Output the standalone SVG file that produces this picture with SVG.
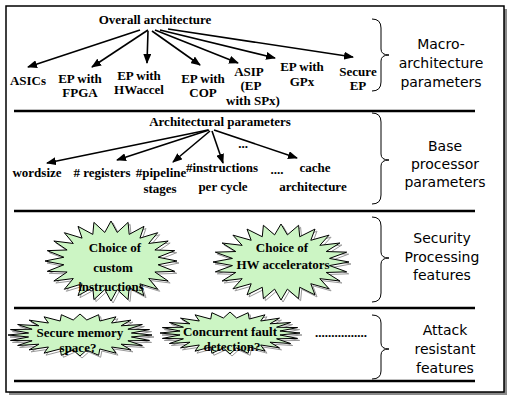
<svg xmlns="http://www.w3.org/2000/svg" xmlns:xlink="http://www.w3.org/1999/xlink" width="514" height="400" viewBox="0 0 514 400">
<style>
.t{font-family:"Liberation Serif","Times New Roman",Tinos,"DejaVu Serif",serif;font-weight:700;font-size:13px;text-anchor:middle;fill:#000}
.s{font-family:"DejaVu Sans","Noto Sans",sans-serif;font-size:14px;text-anchor:middle;fill:#000}
.sep{stroke:#000;stroke-width:2.5}
.br{fill:none;stroke:#000;stroke-width:1}
.ar{stroke:#000;stroke-width:1.6;fill:none;marker-end:url(#ah)}
.burst{fill:#ccf5c4;stroke:#000;stroke-width:1}
.bsh{fill:none;stroke:#999;stroke-width:1}
</style>
<defs>
<marker id="ah" markerUnits="userSpaceOnUse" markerWidth="10" markerHeight="8" refX="9" refY="4" orient="auto">
<path d="M0,0 L10,4 L0,8 Z" fill="#000"/>
</marker>
<polygon id="bp" vector-effect="non-scaling-stroke" points="1,0 .7138,.094 .9659,.2588 .6652,.2755 .866,.5 .5712,.4383 .7071,.7071 .4383,.5712 .5,.866 .2755,.6652 .2588,.9659 .094,.7138 0,1 -.094,.7138 -.2588,.9659 -.2755,.6652 -.5,.866 -.4383,.5712 -.7071,.7071 -.5712,.4383 -.866,.5 -.6652,.2755 -.9659,.2588 -.7138,.094 -1,0 -.7138,-.094 -.9659,-.2588 -.6652,-.2755 -.866,-.5 -.5712,-.4383 -.7071,-.7071 -.4383,-.5712 -.5,-.866 -.2755,-.6652 -.2588,-.9659 -.094,-.7138 0,-1 .094,-.7138 .2588,-.9659 .2755,-.6652 .5,-.866 .4383,-.5712 .7071,-.7071 .5712,-.4383 .866,-.5 .6652,-.2755 .9659,-.2588 .7138,-.094"/>
</defs>
<rect width="514" height="400" fill="#fff"/>
<rect x="9" y="9" width="498" height="386" fill="#8a8a8a"/>
<rect x="6" y="6" width="498" height="386" fill="#fff" stroke="#000" stroke-width="1.5"/>

<g id="separators">
<line class="sep" x1="14" y1="111" x2="475" y2="111"/>
<line class="sep" x1="14" y1="211" x2="475" y2="211"/>
<line class="sep" x1="14" y1="308" x2="475" y2="308"/>
<line class="sep" x1="14" y1="381" x2="475" y2="381"/>
</g>

<g id="braces">
<path class="br" d="M372,19 Q381,19 381,28 L381,49 Q381,55 389,55 Q381,55 381,61 L381,82 Q381,91 372,91"/>
<path class="br" d="M372,113 Q381,113 381,122 L381,154 Q381,160 389,160 Q381,160 381,166 L381,195 Q381,204 372,204"/>
<path class="br" d="M372,217 Q381,217 381,226 L381,252 Q381,258 389,258 Q381,258 381,264 L381,293 Q381,302 372,302"/>
<path class="br" d="M372,315 Q381,315 381,323 L381,343 Q381,349 389,349 Q381,349 381,355 L381,371 Q381,379 372,379"/>
</g>

<g id="connectors">
<line class="ar" x1="140" y1="30" x2="28" y2="67"/>
<line class="ar" x1="148" y1="30" x2="92" y2="67"/>
<line class="ar" x1="148" y1="31" x2="147" y2="63"/>
<line class="ar" x1="152" y1="31" x2="200" y2="65"/>
<line class="ar" x1="155" y1="30" x2="238" y2="63"/>
<line class="ar" x1="160" y1="30" x2="275" y2="58"/>
<line class="ar" x1="168" y1="29" x2="353" y2="57"/>
<line class="ar" x1="208" y1="130" x2="47" y2="163"/>
<line class="ar" x1="209" y1="130" x2="117" y2="160"/>
<line class="ar" x1="210" y1="131" x2="173" y2="162"/>
<line class="ar" x1="212" y1="131" x2="223" y2="163"/>
<line class="ar" x1="214" y1="130" x2="297" y2="158"/>
</g>

<g id="macro">
<text class="t" x="155" y="24">Overall architecture</text>
<text class="t" x="28" y="85">ASICs</text>
<text class="t" x="80" y="83">EP with</text><text class="t" x="80" y="97">FPGA</text>
<text class="t" x="139" y="80">EP with</text><text class="t" x="139" y="94">HWaccel</text>
<text class="t" x="203" y="83">EP with</text><text class="t" x="203" y="97">COP</text>
<text class="t" x="249" y="76">ASIP</text><text class="t" x="251" y="90">(EP</text><text class="t" x="253" y="105">with SPx)</text>
<text class="t" x="302" y="71">EP with</text><text class="t" x="302" y="86">GPx</text>
<text class="t" x="358" y="76">Secure</text><text class="t" x="358" y="90">EP</text>
</g>
<g id="macro-label">
<text class="s" x="441" y="49">Macro-</text>
<text class="s" x="441" y="68">architecture</text>
<text class="s" x="441" y="87">parameters</text>
</g>

<g id="base">
<text class="t" x="220" y="126">Architectural parameters</text>
<text class="t" x="243" y="148">...</text>
<text class="t" x="37" y="177">wordsize</text>
<text class="t" x="102" y="177">#&#160;registers</text>
<text class="t" x="161" y="177">#pipeline</text><text class="t" x="160" y="193">stages</text>
<text class="t" x="222" y="172">#instructions</text><text class="t" x="223" y="191">per cycle</text>
<text class="t" x="277" y="174">....</text>
<text class="t" x="315" y="172">cache</text><text class="t" x="313" y="191">architecture</text>
</g>
<g id="base-label">
<text class="s" x="445" y="151">Base</text>
<text class="s" x="445" y="169">processor</text>
<text class="s" x="445" y="187">parameters</text>
</g>

<g id="custom-instructions">
<use xlink:href="#bp" class="bsh" transform="translate(113,263) scale(66,40)"/>
<use xlink:href="#bp" class="burst" transform="translate(111,261) scale(66,40)"/>
<text class="t" x="115" y="252">Choice of</text>
<text class="t" x="113" y="272">custom</text>
<text class="t" x="111" y="291">instructions</text>
</g>
<g id="hw-accelerators">
<use xlink:href="#bp" class="bsh" transform="translate(283,264) scale(68,38)"/>
<use xlink:href="#bp" class="burst" transform="translate(281,262) scale(68,38)"/>
<text class="t" x="282" y="252">Choice of</text>
<text class="t" x="283" y="269">HW accelerators</text>
</g>
<g id="security-label">
<text class="s" x="442" y="243">Security</text>
<text class="s" x="442" y="262">Processing</text>
<text class="s" x="442" y="280">features</text>
</g>

<g id="secure-memory">
<use xlink:href="#bp" class="bsh" transform="translate(82,337) scale(72,21)"/>
<use xlink:href="#bp" class="burst" transform="translate(80,335) scale(72,21)"/>
<text class="t" x="80" y="337">Secure memory</text>
<text class="t" x="78" y="352">space?</text>
</g>
<g id="fault-detection">
<use xlink:href="#bp" class="bsh" transform="translate(232,335) scale(70,21)"/>
<use xlink:href="#bp" class="burst" transform="translate(230,333) scale(70,21)"/>
<text class="t" x="230" y="336">Concurrent fault</text>
<text class="t" x="232" y="351">detection?</text>
<text class="t" x="341" y="337" textLength="52" lengthAdjust="spacing">................</text>
</g>
<g id="attack-label">
<text class="s" x="445" y="335">Attack</text>
<text class="s" x="445" y="354">resistant</text>
<text class="s" x="445" y="373">features</text>
</g>
</svg>
